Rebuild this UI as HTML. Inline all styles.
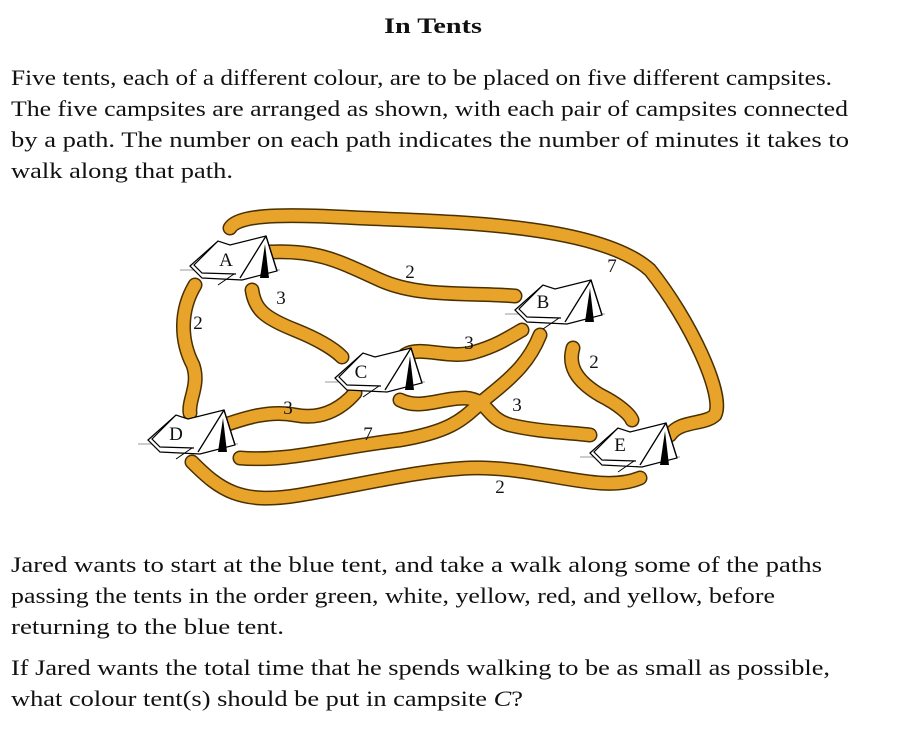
<!DOCTYPE html>
<html><head><style>
body{margin:0;width:905px;height:730px;background:#fff;position:relative;overflow:hidden}
</style></head><body>
<svg style="position:absolute;left:0;top:0" width="905" height="730">
<defs>
<g id="tent">
<line x1="0" y1="32" x2="100" y2="32" stroke="#999" stroke-width="1"/>
<path d="M10,28 L38,3 L50,7 L86,-2 L97,33 L62,42 L22,40 Z" fill="#fff" stroke="#000" stroke-width="1.2"/>
<path d="M38,3 L14,27 L22,35 L56,36" fill="none" stroke="#000" stroke-width="1.2"/>
<path d="M86,-2 L60,40 M86,-2 L97,33" fill="none" stroke="#000" stroke-width="1.3"/>
<path d="M85,6 L80,40 L89,40 Z" fill="#000"/>
<line x1="54" y1="36" x2="38" y2="47" stroke="#000"/>
</g>
</defs>
<g fill="none" stroke-linecap="round">
<g stroke="#4a3000" stroke-width="15">
<path id="p1" d="M230,228 C240,212 300,215 360,218 C460,222 600,225 650,270 C690,320 725,395 715,415 C705,425 680,420 670,435"/>
<path id="p2" d="M270,252 C320,250 340,262 380,280 C420,298 470,292 515,296"/>
<path id="p3" d="M252,290 C255,310 265,318 295,330 C320,340 335,350 342,357"/>
<path id="p4" d="M195,285 C180,310 180,340 193,365 C200,385 188,400 190,413"/>
<path id="p5" d="M405,355 C420,345 450,360 475,352 C495,346 505,340 522,330"/>
<path id="p6" d="M540,335 C530,360 515,375 490,395 C465,415 460,430 400,440 C330,448 290,462 240,458"/>
<path id="p7" d="M573,348 C568,365 575,380 600,395 C620,405 630,415 632,420"/>
<path id="p8" d="M400,400 C420,410 440,398 465,398 C490,400 485,418 510,425 C540,432 565,432 590,435"/>
<path id="p9" d="M355,393 C340,410 320,420 295,415 C270,410 245,418 225,425"/>
<path id="p10" d="M192,462 C220,490 240,505 300,495 C360,485 420,470 470,468 C540,466 600,495 640,478"/>
</g>
<g stroke="#e8a32a" stroke-width="12">
<use href="#p1"/><use href="#p2"/><use href="#p3"/><use href="#p4"/><use href="#p5"/><use href="#p6"/><use href="#p7"/><use href="#p8"/><use href="#p9"/><use href="#p10"/>
</g>
</g>
<use href="#tent" x="180" y="238"/>
<use href="#tent" x="505" y="282"/>
<use href="#tent" x="325" y="350"/>
<use href="#tent" x="138" y="412"/>
<use href="#tent" x="580" y="425"/>
<g font-family="Liberation Serif,serif" font-size="19" fill="#111" text-anchor="middle">
<text x="226" y="266">A</text><text x="543" y="308">B</text><text x="361" y="378">C</text><text x="176" y="440">D</text><text x="620" y="451">E</text>
<text x="410" y="278">2</text><text x="612" y="272">7</text><text x="281" y="304">3</text><text x="198" y="329">2</text>
<text x="469" y="349">3</text><text x="594" y="368">2</text><text x="288" y="414">3</text><text x="517" y="411">3</text>
<text x="368" y="440">7</text><text x="500" y="493">2</text>
</g>
<g font-family="Liberation Serif,serif" font-size="22" fill="#111">
<text x="433" y="33" text-anchor="middle" font-weight="bold" font-size="22" textLength="98" lengthAdjust="spacingAndGlyphs">In Tents</text>
<text x="11" y="85" textLength="821" lengthAdjust="spacingAndGlyphs">Five tents, each of a different colour, are to be placed on five different campsites.</text>
<text x="11" y="116" textLength="837" lengthAdjust="spacingAndGlyphs">The five campsites are arranged as shown, with each pair of campsites connected</text>
<text x="11" y="147" textLength="838" lengthAdjust="spacingAndGlyphs">by a path. The number on each path indicates the number of minutes it takes to</text>
<text x="11" y="178" textLength="222" lengthAdjust="spacingAndGlyphs">walk along that path.</text>
<text x="11" y="572" textLength="811" lengthAdjust="spacingAndGlyphs">Jared wants to start at the blue tent, and take a walk along some of the paths</text>
<text x="11" y="603" textLength="764" lengthAdjust="spacingAndGlyphs">passing the tents in the order green, white, yellow, red, and yellow, before</text>
<text x="11" y="634" textLength="273" lengthAdjust="spacingAndGlyphs">returning to the blue tent.</text>
<text x="11" y="675" textLength="819" lengthAdjust="spacingAndGlyphs">If Jared wants the total time that he spends walking to be as small as possible,</text>
<text x="11" y="706" textLength="512" lengthAdjust="spacingAndGlyphs">what colour tent(s) should be put in campsite <tspan font-style="italic">C</tspan>?</text>
</g>
</svg>
</body></html>
